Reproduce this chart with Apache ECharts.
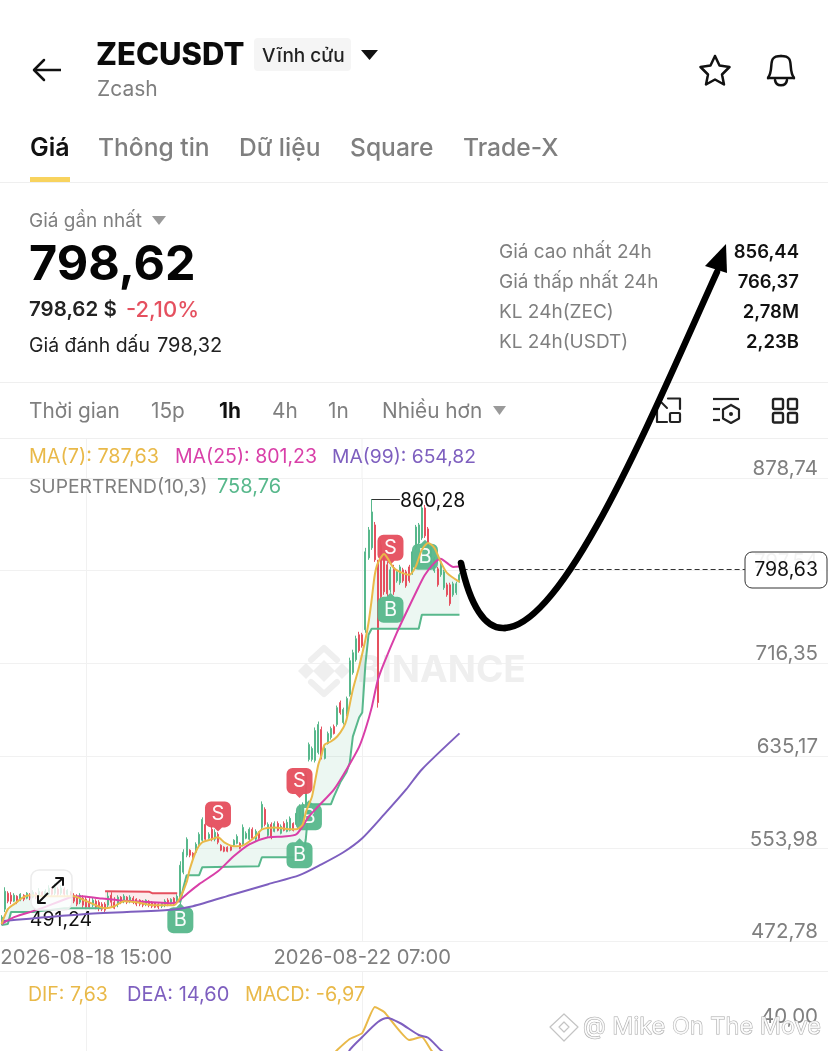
<!DOCTYPE html>
<html><head><meta charset="utf-8">
<style>html,body{margin:0;padding:0;background:#fff}#c{width:828px;height:1051px}</style>
<script src="https://cdn.jsdelivr.net/npm/echarts@6/dist/echarts.min.js"></script>
</head><body><div id="c"></div>
<script>
// [open, close, low, high], hourly candles
const candles = [
[488.4,493.7,486.7,495.4],[500.7,516.4,498.1,519.9],[514.7,507.7,505.9,516.4],[512.9,507.7,505.1,515.6],[507.7,512.9,506.8,514.7],
[512.1,506.8,505.1,512.9],[509.4,513.8,507.7,514.7],[512.9,509.4,507.7,513.8],[510.3,514.7,509.4,515.6],[513.8,510.3,508.6,514.7],
[511.2,515.6,510.3,517.3],[514.7,511.2,509.4,515.6],[512.1,516.4,510.3,519.1],[515.6,512.1,510.3,516.4],[512.9,516.4,511.2,518.2],
[513.8,519.1,512.1,521.7],[518.2,513.8,512.1,519.9],[514.7,519.9,512.9,523.4],[518.2,513.8,512.1,519.9],[514.7,519.1,512.9,521.7],
[518.2,513.8,511.2,519.9],[513.8,517.3,512.1,518.2],[515.6,512.1,510.3,516.4],[512.9,507.7,505.9,514.7],[512.1,505.1,503.3,513.8],
[506.8,512.9,505.1,514.7],[510.3,504.2,501.6,512.9],[509.4,502.4,500.7,512.1],[507.7,502.4,500.7,510.3],[504.2,508.6,502.4,511.2],
[507.7,502.4,500.7,509.4],[506.8,501.6,498.9,508.6],[505.1,500.7,498.9,506.8],[505.1,499.8,498.1,506.8],[504.2,512.1,502.4,516.4],
[512.9,506.8,502.4,515.6],[506.8,501.6,500.7,511.2],[505.1,511.2,502.4,512.9],[511.2,506.8,505.1,512.1],[507.7,512.1,505.9,513.8],
[511.2,506.8,505.1,512.1],[507.7,511.2,505.9,512.9],[510.3,506.8,505.1,512.1],[509.4,505.1,503.3,510.3],[508.6,505.1,503.3,509.4],
[507.7,504.2,502.4,508.6],[505.1,508.6,503.3,509.4],[507.7,504.2,502.4,508.6],[506.8,503.3,501.6,507.7],[505.9,502.4,501.6,506.8],
[505.1,502.4,500.7,505.9],[503.3,505.9,501.6,506.8],[504.2,507.7,502.4,509.4],[508.6,505.1,503.3,510.3],[505.1,509.4,504.2,510.3],
[510.3,505.9,504.2,511.2],[506.8,512.1,505.1,513.8],[506.8,539.2,505.1,542.7],[533.1,550.6,531.3,553.2],[548,562,546.2,563.7],
[552.4,548,546.2,553.2],[549.7,546.2,544.4,550.6],[550.6,557.6,552,559.3],[557.6,566.3,555.8,568.1],[561.1,579.4,559.3,581.2],
[575,562,560.2,576.8],[562.9,566.3,562,568.1],[570.7,562,560.2,574],[562,568.1,560.2,570.7],[566.3,559.3,557.6,568.1],
[556.7,552.4,551.5,557.6],[555,551.5,550.6,555.8],[555,551.5,550.6,555.8],[555.8,552.4,551.5,556.7],[556.7,561.1,555.8,562],
[558.4,564.5,557.6,566.3],[558.4,554.1,553.2,559.3],[557.6,572.4,555.8,575],[562.9,567.2,562,568.9],[562,570.7,560.2,572.4],
[570.7,562.9,562,572.4],[562,568.9,560.2,570.7],[567.2,562.9,562,568.9],[572.4,592.6,570.7,595.2],[588.2,575,573.3,590],
[565.4,575,563.7,576.8],[575,563.7,562,576.8],[568.9,575.9,568.1,577.7],[575.9,569.8,568.9,577.7],[567.2,573.3,566.3,575],
[575.9,569.8,568.9,577.7],[568.9,576.8,568.1,579.4],[569.8,580.3,568.9,582],[575.9,569.8,568.9,576.8],[575,584.7,573.3,586.4],
[577.7,590.9,576.8,592.6],[580.3,592.6,579.4,594.3],[591.7,618.8,590.9,621.5],[632,645,630.2,646.8],[632,641.6,630.2,643.3],
[631.1,657.3,629.3,660],[638.1,662.6,636.4,665.2],[658.2,633.7,632,660.8],[632.9,641.6,632,643.3],[646,654.7,645,656.4],
[651.2,659.1,649.4,660.8],[660.8,654.7,653.8,662.6],[662.6,677.4,660.8,679.2],[681.8,673,671.3,683.6],[664.3,675.7,662.6,677.4],
[671.3,685.4,669.6,687.1],[688.8,718.6,687.1,721.2],[708.1,725.6,706.3,728.2],[719.4,737.8,717.7,740.5],[741.3,727.3,725.6,743.9],
[741.3,731.7,730,743],[745.7,814,743,817.5],[808.7,833.2,807,835.8],[817.5,849,815.7,860.28],[837.6,807,805.2,840.2],
[804.3,681.8,677.4,807],[820.1,774.6,771.9,824.5],[808.7,779,776.3,811.3],[802.6,777.2,774.6,805.2],[780.7,798.2,778.1,800.8],
[800,779,776.3,802.6],[788.6,796.5,786.9,798.2],[786.9,800.8,785.1,802.6],[798.2,788.6,786.9,800],[796.5,784.2,782.5,798.2],
[800.8,788.6,786.9,802.6],[795.6,814,793.9,815.7],[817.5,835.8,815.7,837.6],[821.8,837.6,820.1,839.3],[826.2,852.5,824.5,855.1],
[852.5,828,826.2,855.1],[834.1,817.5,815.7,835.8],[800,818.3,798.2,820.1],[797.4,807.9,795.6,809.6],[799.1,785.1,783.4,800.8],
[793.9,805.2,792.1,807],[782.5,796.5,780.7,798.2],[785.1,776.3,774.6,786.9],[785.1,768.5,766.7,786.9],[776.3,786,774.6,787.8],
[778.1,786,776.3,787.8],[788.6,793.9,786.9,795.6]
];
// [candle index, value] vertices
const ma7 = [[0,487.6],[2,500.7],[4,505.1],[7,511.2],[9,512.9],[14,512.1],[19,512.1],[23,512.1],[27,507.7],[30,504.2],[33,501.6],[36,503.3],[39,507.7],[43,506.8],[46,505.1],[49,504.2],[55,504.2],[57,511.2],[59,524.3],[60,535.7],[62,551.5],[64,559.3],[67,562],[69,563.7],[71,559.3],[74,555.8],[77,556.7],[81,564.5],[83,570.7],[87,572.4],[92,570.7],[94,570.7],[96,575],[97,585.6],[98,592.6],[99,599.6],[101,627.6],[102,635.5],[103,645],[105,647.7],[107,652.1],[109,660],[110,667],[112,693.2],[114,713.3],[116,736.9],[117,751.8],[118,771.9],[119,793.9],[120,804.3],[122,812.2],[123,808.7],[125,800],[127,796.5],[130,793.9],[132,800.8],[134,815.7],[136,821.8],[138,817.5],[140,805.2],[142,795.6],[146,787.63]];
const ma25 = [[0,487.6],[4,493.7],[12,500.7],[22,511.2],[25,512.1],[31,510.3],[37,508.6],[42,507.7],[48,506.8],[54,505.9],[56,506.8],[59,513.8],[63,522.6],[69,533.9],[74,547.1],[79,557.6],[85,563.7],[90,564.5],[94,566.3],[98,582],[101,590.9],[106,605.7],[110,623.2],[114,643],[116,658.2],[118,677.4],[120,702],[122,716.9],[126,743],[129,760.6],[133,783.4],[135,793.9],[138,804.3],[140,807.9],[142,804.3],[144,800.8],[146,801.23]];
const ma99 = [[0,490.2],[26,496.3],[53,499.9],[61,503.3],[74,513.8],[85,522.6],[95,530.5],[102,540],[109,550.6],[115,562.9],[122,583.8],[129,605.7],[134,623.2],[146,654.82]];
const supertrendUp1 = [[0,486.7],[2,487.6],[3,498.1],[10,498.1],[20,501.6],[32,501.6]];
const supertrendDown = [[33,516.4],[47,516],[48,514.7],[56,514.7]];
const supertrendUp2 = [[57,506.8],[58,519.9],[59,530.5],[63,530.5],[64,537.5],[82,538.4],[83,546.2],[96,546.2],[97,562],[98,592.6],[105,592.6],[106,599.6],[108,611.9],[110,621],[111,629],[112,652],[114,668.7],[115,673.1],[116,715.1],[117,741.3],[118,746.6],[133,746.6],[134,758.76],[146,758.76]];
const dif = [[105,15.6],[107,20.8],[111,29.6],[115,34.4],[119,55.2],[122,51.2],[130,28.8],[134,31.2],[137,20.6],[140,11.6]];
const dea = [[110,13.6],[111,20.8],[115,31.2],[120,43.2],[123,46.4],[127,42.4],[133,32.8],[136,30.6],[140,20.8],[143,15.6]];
const signalsSell = [[69,583.8],[95,613],[124,817.5]];
const signalsBuy = [[57,491],[95,548],[98,581.2],[124,763.2],[135,809.6]];
const priceTicks = ['472,78','553,98','635,17','716,35','797,54','878,74'];
const timeTickIdx = [27,115];
const lastPrice = 798.63, highPrice = 860.28, lowPrice = 491.24;
const xCategories = [];
(function(){let t=Date.UTC(2026,7,17,12);for(let i=0;i<264;i++){const d=new Date(t+i*3600000);const p=n=>String(n).padStart(2,'0');xCategories.push(d.getUTCFullYear()+'-'+p(d.getUTCMonth()+1)+'-'+p(d.getUTCDate())+' '+p(d.getUTCHours())+':00');}})();

const FF='Inter, "Noto Sans", sans-serif';
const GREEN='#58B88C',RED='#E5505F',YEL='#E9B949',MAG='#D93FA8',PUR='#7E5FBF',GREY='#7f7f7f',GRID='#f1f1f1';
const Z=100;
const T=(text,x,y,size,fill,weight,align,z)=>({type:'text',silent:true,z:z||Z,style:{text,x,y,fill,font:(weight||400)+' '+size+'px '+FF,textAlign:align||'left',textVerticalAlign:'middle',align:align||'left',verticalAlign:'middle'}});
const L=(x1,y1,x2,y2,stroke,w,z)=>({type:'line',silent:true,z:z||Z,shape:{x1,y1,x2,y2},style:{stroke,lineWidth:w||1}});
const PL=(points,stroke,w,z)=>({type:'polyline',silent:true,z:z||Z,shape:{points},style:{stroke,fill:null,lineWidth:w,lineJoin:'round',lineCap:'round'}});
const PG=(points,fill,z)=>({type:'polygon',silent:true,z:z||Z,shape:{points},style:{fill}});
const R=(x,y,width,height,r,fill,stroke,w,z)=>({type:'rect',silent:true,z:z||Z,shape:{x,y,width,height,r},style:{fill:fill||'none',stroke:stroke||null,lineWidth:w||1}});
const BZ=(x1,y1,cpx1,cpy1,cpx2,cpy2,x2,y2,stroke,w,z)=>({type:'bezierCurve',silent:true,z:z||Z,shape:{x1,y1,cpx1,cpy1,cpx2,cpy2,x2,y2},style:{stroke,fill:null,lineWidth:w,lineCap:'round'}});

const ui=[
 // header
 L(34,70,61,70,'#111',2.5),PL([[44,60],[34,70],[44,80]],'#111',2.5),
 T('ZECUSDT',96,56,31,'#0b0b0b',800),
 R(254,38,97,33,4,'#f5f5f5'),T('Vĩnh cửu',262,56,19,'#222',500),
 PG([[361,50],[378,50],[369.5,60]],'#111'),
 T('Zcash',97,90,21,GREY,400),
 PL([[715,56],[719.5,65.5],[729.5,67],[722,74.5],[724,84.5],[715,79.5],[706,84.5],[708,74.5],[700.5,67],[710.5,65.5],[715,56]],'#111',2.5),
 BZ(768,78,775,68,766,56,781,56,'#111',2.5),BZ(794,78,787,68,796,56,781,56,'#111',2.5),L(767,78,795,78,'#111',2.5),
 BZ(775,80,776,87,786,87,787,80,'#111',2.5),
 // tabs
 T('Giá',30,148.5,25,'#111',600),T('Thông tin',98,148.5,24.6,GREY,500),T('Dữ liệu',239,148.5,24.6,GREY,500),T('Square',350,148.5,24.6,GREY,500),T('Trade-X',463,148.5,24.6,GREY,500),
 R(30,177,40,5,0,'#F8D35E'),L(0,182.5,828,182.5,'#efefef'),
 // price block
 T('Giá gần nhất',29,221,19,GREY,400),PG([[152,216],[166,216],[159,225]],'#9a9a9a'),
 T('798,62',29,265,48.5,'#050505',700),
 T('798,62 $',29,310,20.5,'#222',600),T('-2,10%',126,310,22,RED,500),
 T('Giá đánh dấu',29,346,19.4,'#222',400),T('798,32',157,346,20,'#222',400),
 T('Giá cao nhất 24h',499,252,19,GREY),T('Giá thấp nhất 24h',499,282,19,GREY),T('KL 24h(ZEC)',499,312,19,GREY),T('KL 24h(USDT)',499,342,19,GREY),
 T('856,44',799,252,18.5,'#111',600,'right'),T('766,37',799,282,18.5,'#111',600,'right'),T('2,78M',799,312,18.5,'#111',600,'right'),T('2,23B',799,342,18.5,'#111',600,'right'),
 L(0,382.5,828,382.5,'#efefef'),
 // toolbar
 T('Thời gian',29,412,20.8,GREY),T('15p',151,412,20.8,GREY),T('1h',219,412,20.8,'#111',700),T('4h',272,412,20.8,GREY),T('1n',328,412,20.8,GREY),T('Nhiều hơn',382,412,20.8,GREY),
 PG([[493,406],[506,406],[499.5,415]],'#9a9a9a'),
 PL([[668,398.5],[680,398.5],[680,409]],'#222',2.2),PL([[657,410],[657,422],[667,422]],'#222',2.2),R(670,413,10,9,1,null,'#222',2.2),PL([[660,401],[667,408]],'#222',2),
 L(713,399,739,399,'#222',2.2),L(713,409,720,409,'#222',2.2),L(713,420,720,420,'#222',2.2),
 PL([[731,405],[739,409.5],[739,418.5],[731,423],[723,418.5],[723,409.5],[731,405]],'#222',2.2),R(729,412,4,4,2,'#222'),
 R(773,399,10,10,1.5,null,'#222',2.4),R(788,399,9,10,1.5,null,'#222',2.4),R(773,413,10,9.5,1.5,null,'#222',2.4),R(788,413,9,9.5,1.5,null,'#222',2.4),
 L(0,438.5,828,438.5,'#efefef'),
 L(86.5,438,86.5,478,GRID,1,1),L(362,438,362,478,GRID,1,1),
 // legends
 T('MA(7): 787,63',29,457,19.8,YEL),T('MA(25): 801,23',175,457,19.5,MAG),T('MA(99): 654,82',332,457,19.3,PUR),
 T('SUPERTREND(10,3)',29,487,19.3,GREY),T('758,76',217,487,20,GREEN),
 L(0,971.5,828,971.5,'#efefef'),
 T('DIF: 7,63',28,995,19.5,YEL),T('DEA: 14,60',127,995,20,PUR),T('MACD: -6,97',245,995,19.8,YEL),
 // chart watermark
 PG([[324,660],[335,671],[324,682],[313,671]],'#efefef',1),PG([[306,663],[314,671],[306,679],[298,671]],'#efefef',1),PG([[342,663],[350,671],[342,679],[334,671]],'#efefef',1),
 PL([[311,660],[324,648],[337,660]],'#efefef',6,1),PL([[311,682],[324,694],[337,682]],'#efefef',6,1),
 T('BINANCE',357,671,37,'#efefef',700,'left',1),
 // expand icon
 R(31,870,41,40,8,'rgba(255,255,255,.8)','#ececec',1.5),
 L(52,888,63,878,'#111',2),PL([[56,878],[63,878],[63,885]],'#111',2),L(38,903,48,893,'#111',2),PL([[38,896],[38,903],[45,903]],'#111',2),
 // last price tag
 R(745,552,82,36,7,'rgba(255,255,255,.9)','#333',1),T('798,63',818,570.5,19.5,'#111',400,'right'),
 // hand drawn arrow
 BZ(461,563,470,605,485,630,505,628,'#000',6.5,120),BZ(505,628,565,625,650,420,717,272,'#000',6.5,120),
 PG([[726,244],[705,266],[727,273]],'#000',120),
 // footer watermark
 PG([[564,1015],[577,1027],[564,1040],[551,1027]],'rgba(255,255,255,.7)',130),
 PL([[564,1014],[578,1027],[564,1041],[550,1027],[564,1014]],'#c4c4c4',1.2,130),
 PL([[564,1022],[569,1027],[564,1032],[559,1027],[564,1022]],'#c4c4c4',1.2,130),
 {type:'text',silent:true,z:130,style:{text:'@ Mike On The Move',x:583,y:1027,fill:'rgba(255,255,255,.82)',stroke:'#a8a8a8',lineWidth:1,font:'400 23.5px '+FF,textVerticalAlign:'middle',verticalAlign:'middle'}}
];

const isTimeTick=i=>timeTickIdx.indexOf(i)>=0;
const fillSegments=[[supertrendUp1,'rgba(83,181,135,.11)'],[supertrendDown,'rgba(229,80,95,.11)'],[supertrendUp2,'rgba(83,181,135,.11)']];
const PIN_B='path://M13 0L17 4H20A6 6 0 0 1 26 10V24A6 6 0 0 1 20 30H6A6 6 0 0 1 0 24V10A6 6 0 0 1 6 4H9Z';
const PIN_S='path://M6 0H20A6 6 0 0 1 26 6V20A6 6 0 0 1 20 26H17L13 30L9 26H6A6 6 0 0 1 0 20V6A6 6 0 0 1 6 0Z';
const badge=(data,sym,color,txt,dy)=>({type:'scatter',xAxisIndex:0,yAxisIndex:0,data,symbol:sym,symbolSize:[26,30],symbolOffset:[0,dy],itemStyle:{color,opacity:.96},silent:true,z:4,
  label:{show:true,position:'inside',offset:[0,-dy],formatter:txt,color:'#fff',fontSize:20,fontFamily:FF,fontWeight:400}});
const maLine=(data,color,w)=>({type:'line',xAxisIndex:0,yAxisIndex:0,data,smooth:.25,showSymbol:false,symbol:'none',lineStyle:{color,width:w||2},silent:true,z:6,clip:true});
const stLine=(data,color)=>({type:'line',xAxisIndex:0,yAxisIndex:0,data,showSymbol:false,symbol:'none',lineStyle:{color,width:2},silent:true,z:3});

const chart=echarts.init(document.getElementById('c'),null,{renderer:'canvas'});
chart.setOption({
 animation:false,backgroundColor:'#fff',
 graphic:{elements:ui},
 grid:[{left:0,width:828,top:478,height:463,containLabel:false,outerBoundsMode:'none'},{left:0,width:828,top:971,height:80,containLabel:false,outerBoundsMode:'none'}],
 xAxis:[
  {type:'category',gridIndex:0,data:xCategories,boundaryGap:true,axisLine:{show:false},axisTick:{show:false},
   axisLabel:{interval:i=>isTimeTick(i),color:GREY,fontSize:20.2,fontFamily:FF,margin:7,hideOverlap:false},
   splitLine:{show:true,alignWithLabel:true,interval:i=>isTimeTick(i),lineStyle:{color:GRID,width:1}}},
  {type:'category',gridIndex:1,data:xCategories,boundaryGap:true,axisLine:{show:false},axisTick:{show:false},axisLabel:{show:false},
   splitLine:{show:true,alignWithLabel:true,interval:i=>isTimeTick(i),lineStyle:{color:GRID,width:1}}}
 ],
 yAxis:[
  {type:'value',gridIndex:0,position:'right',min:472.78,max:878.74,interval:81.192,scale:true,axisLine:{show:false},axisTick:{show:false},
   axisLabel:{inside:true,margin:10,verticalAlign:'bottom',color:GREY,fontSize:20.5,fontFamily:FF,formatter:(v,i)=>priceTicks[i],lineHeight:18},
   splitLine:{show:true,lineStyle:{color:GRID,width:1}}},
  {type:'value',gridIndex:1,position:'right',min:20,max:84,interval:20,axisLine:{show:false},axisTick:{show:false},splitLine:{show:false},
   axisLabel:{inside:true,margin:10,verticalAlign:'bottom',color:GREY,fontSize:20.5,fontFamily:FF,lineHeight:18,formatter:v=>v===40?'40,00':''}}
 ],
 series:[
  {type:'custom',xAxisIndex:0,yAxisIndex:0,silent:true,z:1,clip:true,data:fillSegments.map((s,i)=>[i]),encode:{x:-1,y:-1},
   renderItem:(p,api)=>{
     const seg=fillSegments[api.value(0)],st=seg[0],a=st[0][0],b=st[st.length-1][0];
     const top=ma7.filter(q=>q[0]>=a&&q[0]<=b).reverse();
     const pts=st.concat(top).map(q=>api.coord(q));
     return {type:'polygon',shape:{points:pts},style:{fill:seg[1]}};
   }},
  {type:'candlestick',xAxisIndex:0,yAxisIndex:0,data:candles,barWidth:1.5,silent:true,z:2,
   itemStyle:{color:GREEN,color0:RED,borderColor:GREEN,borderColor0:RED,borderWidth:1},
   markLine:{silent:true,symbol:'none',z:7,animation:false,data:[
     [{coord:[147,lastPrice],lineStyle:{color:'#333',type:[5,3],width:1},label:{show:false}},{coord:[237,lastPrice]}],
     [{coord:[118,highPrice],lineStyle:{color:'#333',type:'solid',width:1},label:{show:true,position:'end',distance:0,formatter:'860,28',color:'#111',fontSize:19.5,fontFamily:FF,offset:[0,2]}},{coord:[127,highPrice]}]
   ]},
   markPoint:{silent:true,symbol:'circle',symbolSize:0,data:[{coord:[9,lowPrice],label:{show:true,position:'right',distance:0,formatter:'491,24',color:'#111',fontSize:19.5,fontFamily:FF}}]}
  },
  stLine(supertrendUp1,GREEN),stLine(supertrendDown,RED),stLine(supertrendUp2,GREEN),
  badge(signalsSell,PIN_S,RED,'S',2),
  badge(signalsBuy,PIN_B,GREEN,'B',-2),
  maLine(ma99,PUR),maLine(ma25,MAG),maLine(ma7,YEL),
  {type:'line',xAxisIndex:1,yAxisIndex:1,data:dif,smooth:.15,showSymbol:false,symbol:'none',lineStyle:{color:YEL,width:2},silent:true,z:3},
  {type:'line',xAxisIndex:1,yAxisIndex:1,data:dea,smooth:.25,showSymbol:false,symbol:'none',lineStyle:{color:PUR,width:2},silent:true,z:3}
 ]
});
</script></body></html>
